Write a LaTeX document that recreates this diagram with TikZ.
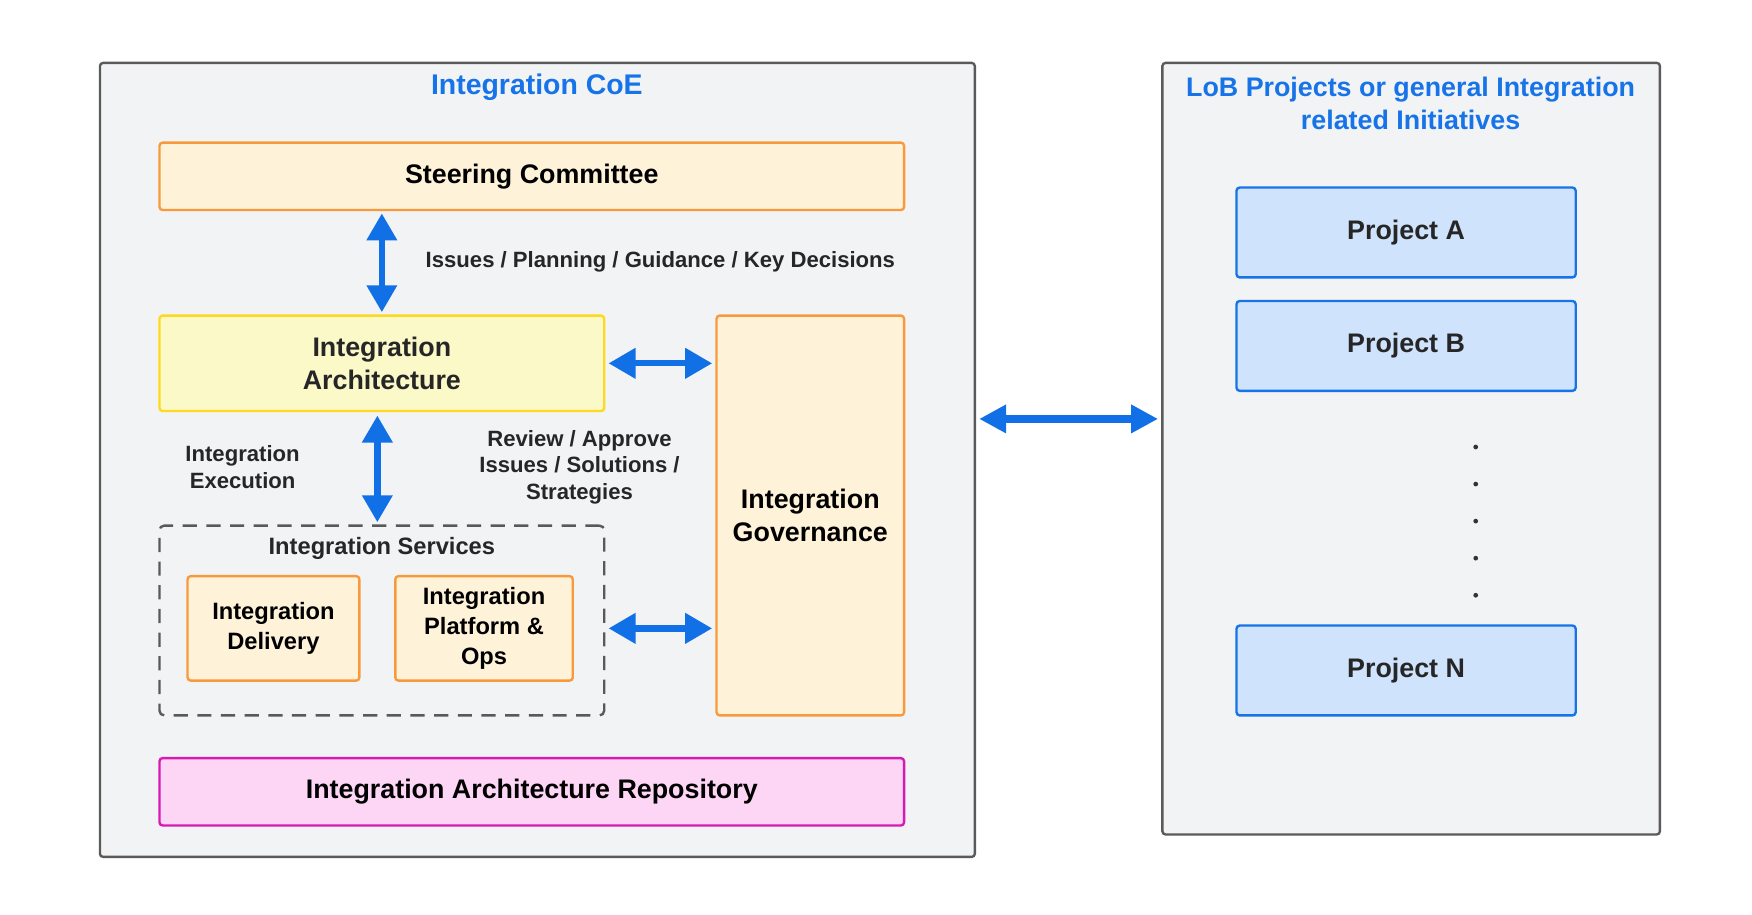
\documentclass[tikz,border=0pt]{standalone}
\usepackage{fontspec}
\setmainfont{Liberation Sans}
\usetikzlibrary{arrows.meta, positioning}
\definecolor{panel}{RGB}{242, 243, 245}
\definecolor{panelline}{RGB}{90, 90, 90}
\definecolor{title}{RGB}{22, 115, 232}
\definecolor{cream}{RGB}{254, 242, 217}
\definecolor{orangeline}{RGB}{248, 154, 60}
\definecolor{lemon}{RGB}{251, 249, 200}
\definecolor{yellowline}{RGB}{255, 217, 30}
\definecolor{pink}{RGB}{253, 213, 245}
\definecolor{pinkline}{RGB}{214, 27, 181}
\definecolor{sky}{RGB}{207, 227, 252}
\definecolor{flow}{RGB}{18, 112, 230}
\begin{document}
\begin{tikzpicture}[x=0.25mm, y=-0.25mm,
    every node/.style={font=\bfseries\fontsize{14}{17}\selectfont, align=center, text=black!85},
    panel/.style={draw=panelline, line width=1.5pt, fill=panel, rounded corners=2pt, inner sep=0pt},
    box/.style={draw=orangeline, line width=1.5pt, fill=cream, rounded corners=2pt, inner sep=0pt, font=\bfseries\fontsize{17}{21}\selectfont, text=black},
    proj/.style={draw=title, line width=1.5pt, fill=sky, rounded corners=2pt, inner sep=0pt, font=\bfseries\fontsize{17}{21}\selectfont},
    link/.style={flow, line width=4pt, {Triangle[length=6mm, width=6.5mm]}-{Triangle[length=6mm, width=6.5mm]}},
    fat/.style={flow, line width=5pt, {Triangle[length=6mm, width=6mm]}-{Triangle[length=6mm, width=6mm]}}
]
    \useasboundingbox (0,0) rectangle (1560,814);

    % Panels
    \node[panel, minimum width=779*0.25mm, minimum height=707*0.25mm] (coe) at (478.5,409.5) {};
    \node[font=\bfseries\fontsize{18}{22}\selectfont, text=title] (coetitle) at (478,78) {Integration CoE};
    \node[panel, minimum width=443*0.25mm, minimum height=687*0.25mm] (lob) at (1256.5,399.5) {};
    \node[font=\bfseries\fontsize{17}{21}\selectfont, text=title] (lobtitle) at (1256,92) {LoB Projects or general Integration\\related Initiatives};

    % CoE blocks
    \node[box, minimum width=663*0.25mm, minimum height=60*0.25mm] (steer) at (473.5,157) {Steering Committee};
    \node[box, draw=yellowline, fill=lemon, minimum width=396*0.25mm, minimum height=85*0.25mm, text=black!85] (arch) at (340,323.5) {Integration\\Architecture};
    \node[box, minimum width=167*0.25mm, minimum height=356*0.25mm] (gov) at (721.5,459) {Integration\\Governance};
    \node[draw=black!65, line width=1.5pt, dash pattern=on 9pt off 6pt, rounded corners=3pt, minimum width=396*0.25mm, minimum height=169*0.25mm] (svc) at (340,552.5) {};
    \node[font=\bfseries\fontsize{15}{18}\selectfont] (svctitle) at (340,488) {Integration Services};
    \node[box, minimum width=153*0.25mm, minimum height=93*0.25mm, font=\bfseries\fontsize{15}{19}\selectfont] (deliv) at (243.5,559.5) {Integration\\Delivery};
    \node[box, minimum width=158*0.25mm, minimum height=93*0.25mm, font=\bfseries\fontsize{15}{19}\selectfont] (plat) at (431,559.5) {Integration\\Platform \&\\Ops};
    \node[box, draw=pinkline, fill=pink, minimum width=663*0.25mm, minimum height=60*0.25mm] (repo) at (473.5,705) {Integration Architecture Repository};

    % Labels
    \node (issues) at (588,233) {Issues / Planning / Guidance / Key Decisions};
    \node (exec) at (216,416) {Integration\\Execution};
    \node (review) at (516,416) {Review / Approve\\Issues / Solutions /\\Strategies};

    % Projects
    \node[proj, minimum width=302*0.25mm, minimum height=80*0.25mm] (pa) at (1252,207) {Project A};
    \node[proj, minimum width=302*0.25mm, minimum height=80*0.25mm] (pb) at (1252,308) {Project B};
    \node[proj, minimum width=302*0.25mm, minimum height=80*0.25mm] (pn) at (1252,597) {Project N};
    \foreach \y in {398,431,464,497,530}
        \fill[black!80] (1314,\y) circle (1.5pt);

    % Arrows
    \coordinate (steerfoot) at (340,190);
    \coordinate (archhead) at (340,278);
    \draw[link] (steerfoot) -- (archhead);
    \coordinate (archfoot) at (336,370);
    \coordinate (svchead) at (336,465);
    \draw[link] (archfoot) -- (svchead);
    \draw[link] ([xshift=2pt]arch.east) -- ([xshift=-2pt]gov.west |- arch.east);
    \draw[link] ([xshift=2pt]svc.east |- deliv.east) -- ([xshift=-2pt]gov.west |- deliv.east);
    \draw[fat] ([xshift=2pt]coe.east |- 0,373) -- ([xshift=-2pt]lob.west |- 0,373);
\end{tikzpicture}
\end{document}
